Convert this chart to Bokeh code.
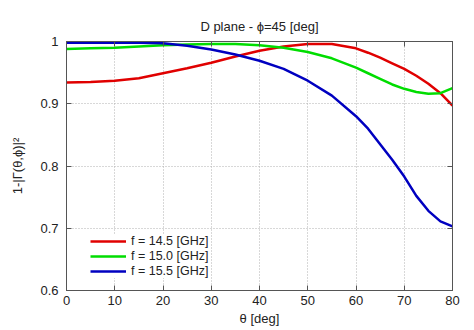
from bokeh.plotting import figure
from bokeh.models import FixedTicker, LinearAxis, Legend, LegendItem, Range1d
from bokeh.embed import file_html
from bokeh.resources import INLINE

theta = [0, 5, 10, 15, 20, 25, 30, 35, 40, 45, 50, 55, 60, 62.5, 65, 67.5, 70, 72.5, 75, 77.5, 80]
f145 = [0.934, 0.935, 0.937, 0.941, 0.949, 0.957, 0.966, 0.976, 0.985, 0.992, 0.996, 0.996, 0.989,
        0.982, 0.974, 0.965, 0.956, 0.945, 0.932, 0.917, 0.897]
f150 = [0.988, 0.989, 0.990, 0.992, 0.994, 0.995, 0.996, 0.996, 0.994, 0.990, 0.983, 0.973, 0.958,
        0.949, 0.940, 0.931, 0.924, 0.919, 0.916, 0.917, 0.925]
f155 = [0.998, 0.998, 0.998, 0.998, 0.997, 0.993, 0.987, 0.979, 0.969, 0.956, 0.937, 0.913, 0.880,
        0.860, 0.835, 0.810, 0.783, 0.752, 0.728, 0.711, 0.703]
labels = ["f = 14.5 [GHz]", "f = 15.0 [GHz]", "f = 15.5 [GHz]"]
colors = ["#e00000", "#00dd00", "#0000c0"]
xticks = [0, 10, 20, 30, 40, 50, 60, 70, 80]
yticks = [0.6, 0.7, 0.8, 0.9, 1.0]

FONT = "Liberation Sans"

p = figure(width=474, height=330, output_backend="svg", toolbar_location=None,
           x_range=Range1d(0, 80), y_range=Range1d(0.6, 1.0),
           min_border_left=66, min_border_right=22, min_border_top=41, min_border_bottom=40,
           title="D plane - \u03d5=45 [deg]")
p.title.align = "center"
p.title.text_font = FONT
p.title.text_font_size = "13px"
p.title.text_font_style = "normal"
p.title.text_color = "#222222"
p.title.standoff = 16

p.outline_line_color = "#555555"
p.outline_line_width = 1

renderers = []
for ys, c in zip([f145, f150, f155], colors):
    r = p.line(theta, ys, line_color=c, line_width=2.5, line_join="round")
    renderers.append(r)

for ax in [p.xaxis[0], p.yaxis[0]]:
    ax.major_tick_in = 5
    ax.major_tick_out = 0
    ax.minor_tick_line_color = None
    ax.axis_line_color = "#555555"
    ax.major_tick_line_color = "#555555"
    ax.major_label_text_font = FONT
    ax.major_label_text_font_size = "13px"
    ax.major_label_text_color = "#222222"
    ax.axis_label_text_font = FONT
    ax.axis_label_text_font_size = "13px"
    ax.axis_label_text_font_style = "normal"
    ax.axis_label_text_color = "#222222"

p.xaxis[0].ticker = FixedTicker(ticks=xticks)
p.yaxis[0].ticker = FixedTicker(ticks=yticks)
p.yaxis[0].major_label_overrides = {1.0: "1", 1: "1"}
p.xaxis[0].axis_label = "\u03b8 [deg]"
p.yaxis[0].axis_label = "1-|\u0393(\u03b8,\u03d5)|\u00b2"
p.xaxis[0].axis_label_standoff = 3
p.yaxis[0].axis_label_standoff = 12
p.xaxis[0].major_label_standoff = 5
p.yaxis[0].major_label_standoff = 8

top = LinearAxis(ticker=FixedTicker(ticks=xticks),
                 major_label_overrides={t: "" for t in xticks},
                 major_tick_in=5, major_tick_out=0, minor_tick_line_color=None,
                 axis_line_color="#555555", major_tick_line_color="#555555")
right = LinearAxis(ticker=FixedTicker(ticks=yticks),
                   major_label_overrides={t: "" for t in yticks},
                   major_tick_in=5, major_tick_out=0, minor_tick_line_color=None,
                   axis_line_color="#555555", major_tick_line_color="#555555")
p.add_layout(top, "above")
p.add_layout(right, "right")

p.xgrid.ticker = FixedTicker(ticks=xticks)
p.ygrid.ticker = FixedTicker(ticks=yticks)
for g in [p.xgrid[0], p.ygrid[0]]:
    g.grid_line_color = "#b0b0b0"
    g.grid_line_dash = "1 2"
    g.grid_line_width = 1

legend = Legend(items=[LegendItem(label=l, renderers=[r]) for l, r in zip(labels, renderers)],
                location=(24, 12))
legend.label_text_font = FONT
legend.label_text_font_size = "12.5px"
legend.label_text_color = "#222222"
legend.border_line_color = None
legend.background_fill_color = "white"
legend.background_fill_alpha = 1.0
legend.glyph_width = 36
legend.label_height = 14
legend.glyph_height = 14
legend.spacing = 1
legend.padding = 10
legend.margin = 0
p.add_layout(legend, "center")

open("out.html", "w").write(file_html(p, INLINE))
